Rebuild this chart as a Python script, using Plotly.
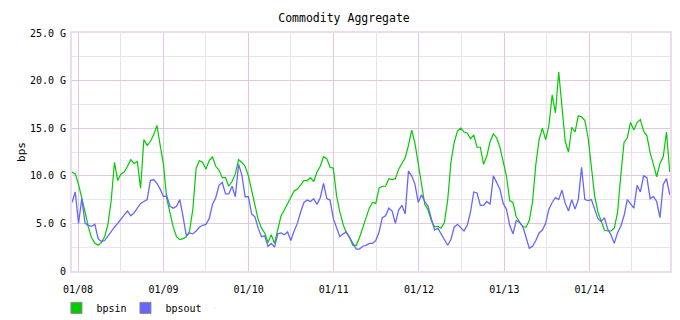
import pandas as pd
import plotly.graph_objects as go

# ---- data (Gbps), sampled every 14 days starting 2007-12-06 ----
start_date = "2007-12-06"
step = "14D"

bpsin = [
    10.4, 10.2, 9.1, 7.8, 6.2, 4.6, 3.5, 2.9, 2.7, 3.0,
    3.6, 4.9, 7.4, 11.4, 9.5, 10.2, 10.4, 11.0, 11.7, 11.3,
    11.5, 8.7, 13.8, 13.2, 13.6, 14.3, 15.3, 13.2, 11.2, 7.6,
    6.0, 4.6, 3.6, 3.3, 3.4, 3.6, 4.2, 6.5, 10.8, 11.6,
    11.4, 10.7, 11.6, 12.0, 11.0, 10.6, 9.8, 9.8, 8.9, 9.4,
    10.2, 11.7, 11.4, 11.0, 10.0, 8.4, 6.7, 5.4, 4.5, 4.0,
    3.0, 3.8, 2.9, 4.2, 5.8, 6.4, 7.1, 7.8, 8.4, 8.6,
    9.1, 9.5, 9.5, 9.8, 9.4, 10.4, 11.0, 12.0, 11.8, 10.9,
    10.8, 7.9, 6.2, 4.9, 4.0, 3.5, 2.7, 2.7, 3.5, 4.6,
    5.5, 6.6, 7.2, 7.1, 8.7, 8.9, 8.9, 9.7, 9.6, 9.7,
    10.7, 11.3, 11.9, 13.2, 14.8, 13.4, 11.3, 9.2, 7.0, 6.4,
    5.3, 4.65, 4.7, 4.5, 5.1, 7.4, 11.4, 13.5, 14.7, 15.0,
    14.6, 14.5, 13.9, 14.3, 13.0, 13.0, 11.2, 12.1, 13.6, 14.4,
    14.0, 13.0, 11.5, 10.0, 7.4, 7.2, 5.7, 5.1, 4.65, 4.6,
    5.3, 7.3, 11.2, 13.8, 15.0, 13.8, 15.3, 18.5, 16.6, 20.9,
    17.6, 13.6, 12.5, 15.1, 14.6, 16.3, 16.2, 15.8, 14.0, 10.6,
    7.9, 6.2, 5.3, 4.3, 4.2, 4.2, 4.5, 6.1, 10.0, 13.5,
    14.0, 15.6, 14.8, 15.6, 15.9, 14.7, 14.2, 12.4, 11.2, 9.9,
    11.3, 12.0, 14.6, 10.4,
]

bpsout = [
    7.2, 8.3, 5.0, 7.6, 5.0, 4.8, 4.7, 4.9, 3.4, 3.1,
    3.2, 3.7, 4.2, 4.6, 5.0, 5.5, 5.9, 6.3, 5.8, 6.1,
    6.6, 7.1, 7.3, 7.5, 9.5, 9.6, 9.2, 8.6, 7.8, 7.9,
    6.8, 6.6, 6.8, 7.5, 5.7, 3.7, 4.0, 3.9, 4.2, 4.6,
    4.8, 4.9, 5.5, 7.0, 7.7, 9.0, 9.3, 8.1, 8.1, 8.9,
    7.8, 11.2, 10.1, 7.8, 7.8, 6.0, 5.7, 4.5, 3.6, 3.7,
    2.6, 2.9, 2.5, 3.9, 4.0, 3.8, 4.1, 3.2, 4.2, 5.0,
    6.2, 7.2, 7.45, 7.3, 7.6, 7.0, 7.7, 9.2, 7.6, 7.45,
    5.5, 4.5, 3.6, 3.9, 4.1, 3.5, 2.9, 2.3, 2.3, 2.6,
    2.7, 2.9, 2.9, 3.2, 4.1, 5.6, 5.8, 6.6, 6.3, 5.0,
    6.4, 6.9, 6.0, 10.5, 10.0, 9.1, 7.2, 8.0, 7.3, 6.8,
    5.5, 4.3, 4.5, 3.9, 3.4, 2.7, 3.3, 4.6, 4.9, 4.6,
    4.2, 4.8, 6.2, 8.3, 8.2, 6.9, 6.9, 7.3, 7.0, 10.0,
    9.3, 8.6, 7.1, 6.5, 4.8, 3.9, 5.3, 5.1, 4.7, 3.5,
    2.4, 2.6, 3.2, 4.0, 4.3, 5.0, 6.5, 7.2, 7.7, 7.5,
    8.5, 7.1, 6.3, 7.5, 6.5, 7.5, 10.9, 7.5, 7.4, 7.5,
    6.6, 5.5, 5.2, 5.6, 4.4, 3.8, 2.9, 4.0, 4.7, 5.8,
    7.5, 7.0, 6.6, 9.0, 8.3, 10.0, 9.8, 7.6, 7.8, 7.3,
    5.6, 9.1, 9.7, 8.0,
]

y_tickvals = [0, 5, 10, 15, 20, 25]
y_ticktext = ["0", "5.0 G", "10.0 G", "15.0 G", "20.0 G", "25.0 G"]

series_names = ["bpsin", "bpsout"]
series_colors = ["#00cc00", "#6666ff"]

dates = pd.date_range(start=start_date, periods=len(bpsin), freq=step)

mono = "DejaVu Sans Mono"

# the page body adds an 8px margin, so the figure is sized to the visible area
W, H = 672, 312

fig = go.Figure()
for name, vals, col, w in [(series_names[0], bpsin, series_colors[0], 1.2),
                           (series_names[1], bpsout, series_colors[1], 1.3)]:
    fig.add_trace(go.Scatter(x=dates, y=vals, mode="lines", name=name,
                             line=dict(color=col, width=w), showlegend=False,
                             hoverinfo="skip"))

# legend swatches
for name, col in zip(series_names, series_colors):
    fig.add_trace(go.Scatter(x=[None], y=[None], mode="markers", name=name,
                             marker=dict(symbol="square", size=11, color=col,
                                         line=dict(color="#888888", width=1))))
# invisible spacer entry so the last legend label is not clipped
fig.add_trace(go.Scatter(x=[None], y=[None], mode="markers", name=" ",
                         marker=dict(size=1, opacity=0), hoverinfo="skip"))

fig.update_layout(
    width=W, height=H,
    margin=dict(l=64, r=10, t=25, b=49, autoexpand=False),
    paper_bgcolor="white", plot_bgcolor="white",
    title=dict(text="Commodity Aggregate", x=0.5, xanchor="center",
               y=1 - 10 / H, yanchor="middle",
               font=dict(family=mono, size=11.5, color="#000000")),
    font=dict(family=mono, size=10, color="#000000"),
    showlegend=True,
    legend=dict(orientation="h", x=-0.026, xanchor="left", y=-0.155, yanchor="middle",
                font=dict(family=mono, size=10, color="#000000"),
                itemwidth=30, entrywidth=24, entrywidthmode="pixels",
                tracegroupgap=0, bgcolor="rgba(0,0,0,0)"),
    xaxis=dict(
        type="date",
        range=["2007-12-06", "2014-12-12"],
        tick0="2008-01-01", dtick="M12", tickformat="%m/%y",
        showgrid=True, gridcolor="#e0c8e0", gridwidth=1,
        minor=dict(dtick="M6", tick0="2008-01-01", showgrid=True,
                   gridcolor="#ebe3eb", gridwidth=1),
        showline=True, mirror=True, linecolor="#eedcee", linewidth=2,
        ticks="", zeroline=False, ticklabelstandoff=8,
        tickfont=dict(family=mono, size=10, color="#000000"),
    ),
    yaxis=dict(
        range=[0, 25],
        tickvals=y_tickvals, ticktext=y_ticktext,
        showgrid=True, gridcolor="#e0c8e0", gridwidth=1,
        minor=dict(dtick=2.5, showgrid=True, gridcolor="#ebe3eb", gridwidth=1),
        showline=True, mirror=True, linecolor="#eedcee", linewidth=2,
        ticks="", zeroline=False, ticklabelstandoff=2,
        tickfont=dict(family=mono, size=10, color="#000000"),
        title=dict(text="bps", font=dict(family=mono, size=11, color="#000000"),
                   standoff=2),
    ),
)

fig.write_html("out.html")
